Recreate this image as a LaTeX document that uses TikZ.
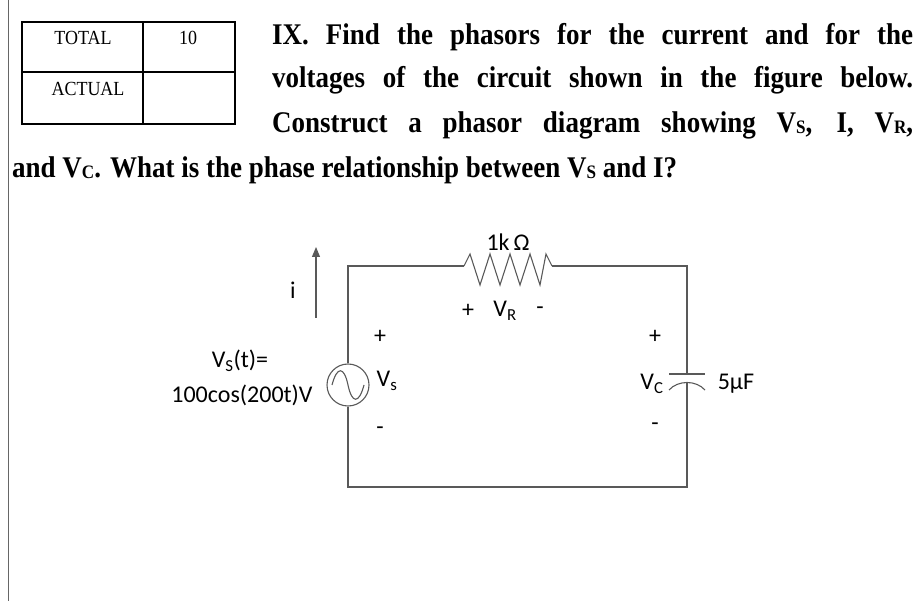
\documentclass[tikz,border=0pt]{standalone}
\usepackage{fontspec}
\setmainfont{Liberation Serif}
\newfontfamily\ttlfont[FakeStretch=0.9]{Liberation Serif}
\newfontfamily\calfont{Carlito}
\usetikzlibrary{arrows.meta}
\newcommand{\lowsc}[1]{\raisebox{-1pt}{\fontsize{19}{19}\selectfont #1}}
\begin{document}
\begin{tikzpicture}[x=1pt,y=-1pt,
  wire/.style={draw=black!65,line width=1.1pt},
  tbl/.style={draw=black,line width=1.3pt},
  tline/.style={anchor=base west,inner sep=0pt,font=\ttlfont\bfseries\fontsize{30}{30}\selectfont},
  tcell/.style={font=\ttlfont\fontsize{20}{20}\selectfont},
  cl/.style={font=\calfont\fontsize{24}{24}\selectfont,inner sep=0pt}]
\useasboundingbox (0,0) rectangle (921,601);
\draw[black!60,line width=1pt] (8,0) -- (8,601);
% table
\draw[tbl] (22,22) rectangle (235,124);
\draw[tbl] (22,72) -- (235,72);
\draw[tbl] (143,22) -- (143,124);
\node[tcell] (t1) at (83,38) {TOTAL};
\node[tcell] (t2) at (188,38) {10};
\node[tcell] (t3) at (88,89) {ACTUAL};
% text
\node[tline] (l1) at (272,45) {\makebox[641pt][s]{IX. Find the phasors for the current and for the}};
\node[tline] (l2) at (272,88) {\makebox[641pt][s]{voltages of the circuit shown in the figure below.}};
\node[tline] (l3) at (272,133) {\makebox[641pt][s]{Construct a phasor diagram showing V\lowsc{S}, I, V\lowsc{R},}};
\node[tline] (l4) at (12,178) {and V\lowsc{C}. What is the phase relationship between V\lowsc{S} and I?};
% circuit
\coordinate (tl) at (348,266);
\coordinate (tr) at (687,266);
\coordinate (bl) at (348,487);
\coordinate (br) at (687,487);
\coordinate (r1) at (464,266);
\coordinate (r2) at (552,266);
\node[circle,draw=black!65,line width=1.1pt,minimum size=42pt,inner sep=0pt] (src) at (348,385) {};
\draw[black!65,line width=1.1pt] (332,385) .. controls (337,366) and (344,366) .. (348,385) .. controls (352,404) and (359,404) .. (364,385);
\draw[wire] (src.north) -- (tl) -- (r1);
\draw[wire] (r1) -- (470,254) -- (480,285) -- (490,254) -- (500,285) -- (510,254) -- (520,285) -- (530,254) -- (540,285) -- (546,254) -- (r2);
\draw[wire] (r2) -- (tr) -- (687,374);
\draw[wire] (669,374) -- (705,374);
\draw[wire] (669,390) .. controls (678,380) and (696,380) .. (705,390);
\draw[wire] (687,382) -- (br) -- (bl) -- (src.south);
% arrow i
\coordinate (ia) at (316,318);
\coordinate (ib) at (316,247);
\draw[black!65,line width=1.1pt,-{Triangle[length=10pt,width=8pt]}] (ia) -- (ib);
\node[cl] (il) at (293,290) {i};
% labels
\node[cl] (rl) at (508,242) {1k\,Ω};
\node[cl] (vrp) at (468,311) {+};
\node[cl] (vr) at (505,311) {V\textsubscript{R}};
\node[cl] (vrm) at (540,311) {-};
\node[cl] (vsp) at (380,337) {+};
\node[cl] (vs) at (387,381) {V\textsubscript{s}};
\node[cl] (vsm) at (380,431) {-};
\node[cl] (vcp) at (655,337) {+};
\node[cl] (vc) at (652,384) {V\textsubscript{C}};
\node[cl] (vcm) at (655,427) {-};
\node[cl] (cv) at (736,384) {5μF};
\node[cl] (s1) at (240,361) {V\textsubscript{S}(t)=};
\node[cl] (s2) at (242,395) {100cos(200t)V};
\end{tikzpicture}
\end{document}
